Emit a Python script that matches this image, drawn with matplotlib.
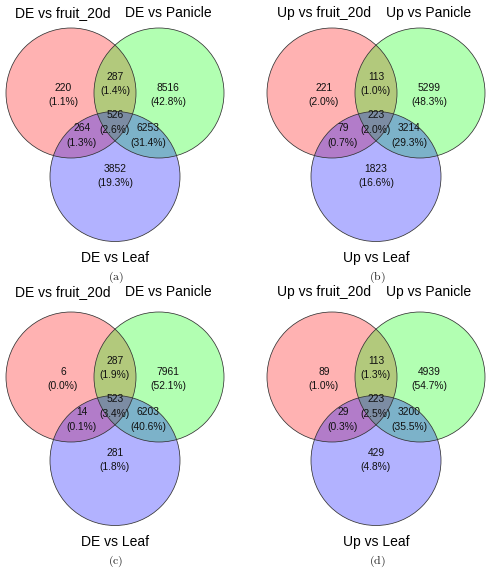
import matplotlib.pyplot as plt
from matplotlib.patches import Circle

plt.rcParams['font.family'] = ['Liberation Sans', 'DejaVu Sans']
plt.rcParams['mathtext.fontset'] = 'cm'

# region order: fruit only, fruit&panicle, panicle only, all three,
#               fruit&leaf, panicle&leaf, leaf only
captions = ['(a)', '(b)', '(c)', '(d)']
set_names_a = ['DE vs fruit_20d', 'DE vs Panicle', 'DE vs Leaf']
set_names_b = ['Up vs fruit_20d', 'Up vs Panicle', 'Up vs Leaf']
set_names_c = ['DE vs fruit_20d', 'DE vs Panicle', 'DE vs Leaf']
set_names_d = ['Up vs fruit_20d', 'Up vs Panicle', 'Up vs Leaf']
counts_a = [220, 287, 8516, 526, 264, 6253, 3852]
counts_b = [221, 113, 5299, 223, 79, 3214, 1823]
counts_c = [6, 287, 7961, 523, 14, 6203, 281]
counts_d = [89, 113, 4939, 223, 29, 3200, 429]
pct_a = [1.1, 1.4, 42.8, 2.6, 1.3, 31.4, 19.3]
pct_b = [2.0, 1.0, 48.3, 2.0, 0.7, 29.3, 16.6]
pct_c = [0.0, 1.9, 52.1, 3.4, 0.1, 40.6, 1.8]
pct_d = [1.0, 1.3, 54.7, 2.5, 0.3, 35.5, 4.8]

panels = [
    (set_names_a, counts_a, pct_a),
    (set_names_b, counts_b, pct_b),
    (set_names_c, counts_c, pct_c),
    (set_names_d, counts_d, pct_d),
]

# layout in pixels within one panel
offsets = [(0, 0), (261, 0), (0, 284), (261, 284)]
top_label_y = [13, 13, 8, 8]
centers = [(71, 93), (159, 93), (115, 176.5)]
radius = 65
fills = ['red', 'lime', 'blue']
region_xy = [(63, 95), (115, 84), (168, 95), (115, 122.5),
             (82, 135.5), (148, 135.5), (115, 176)]

fig = plt.figure(figsize=(4.91, 5.71), dpi=100)
ax = fig.add_axes([0, 0, 1, 1])
ax.set_xlim(0, 491)
ax.set_ylim(571, 0)
ax.axis('off')

for i, (names, counts, pct) in enumerate(panels):
    dx, dy = offsets[i]
    for (cx, cy), col in zip(centers, fills):
        ax.add_patch(Circle((cx + dx, cy + dy), radius, facecolor=col,
                            alpha=0.3, edgecolor='none'))
    for (cx, cy) in centers:
        ax.add_patch(Circle((cx + dx, cy + dy), radius, facecolor='none',
                            edgecolor='#333333', lw=0.55))
    for (x, y), n, p in zip(region_xy, counts, pct):
        ax.text(x + dx, y + dy, f'{n}\n({p:.1f}%)', ha='center', va='center',
                fontsize=7.4, color='#111111', linespacing=1.55)
    ax.text(63 + dx, top_label_y[i] + dy, names[0], ha='center', va='center', fontsize=10)
    ax.text(168 + dx, top_label_y[i] + dy, names[1], ha='center', va='center', fontsize=10)
    ax.text(115 + dx, 258 + dy, names[2], ha='center', va='center', fontsize=10)
    ax.text(116 + dx, 277 + dy, r'$\mathrm{' + captions[i] + '}$', ha='center',
            va='center', fontsize=8.5, color='#222222')

fig.savefig('out.png', dpi=100)
